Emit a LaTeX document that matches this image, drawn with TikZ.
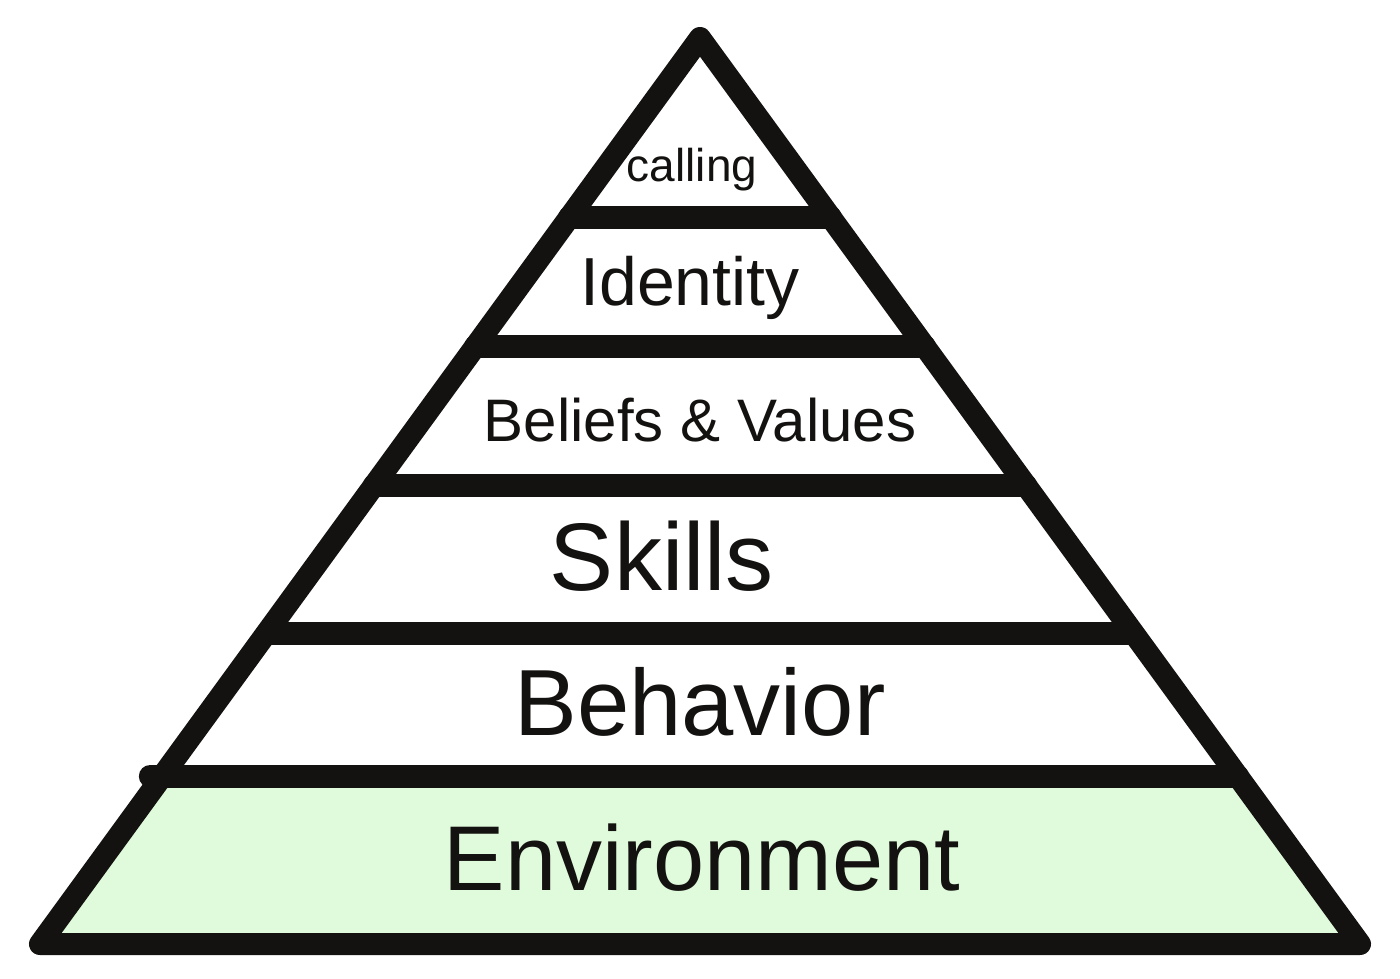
\documentclass[tikz,border=0pt]{standalone}
\usepackage{fontspec}
\setmainfont{Liberation Sans}
\usetikzlibrary{calc}
\definecolor{ink}{HTML}{141210}
\definecolor{envgreen}{HTML}{E0FADC}
\tikzset{
  pyr/.style={draw=ink, line width=22pt, line cap=round, line join=round},
  band/.style={draw=ink, line width=23pt, line cap=round},
  lab/.style={text=ink, inner sep=0pt, anchor=center}
}
\newcommand{\fs}[1]{\fontsize{#1}{#1}\selectfont}
\begin{document}
\begin{tikzpicture}[x=1pt,y=-1pt]
\useasboundingbox (0,0) rectangle (1400,978);
\coordinate (A) at (700,38);
\coordinate (L) at (40,944);
\coordinate (R) at (1360,944);
% band heights as fractions of the edge
\coordinate (b1l) at ($(A)!0.1976!(L)$);
\coordinate (b1r) at ($(A)!0.1976!(R)$);
\coordinate (b2l) at ($(A)!0.3400!(L)$);
\coordinate (b2r) at ($(A)!0.3400!(R)$);
\coordinate (b3l) at ($(A)!0.4934!(L)$);
\coordinate (b3r) at ($(A)!0.4934!(R)$);
\coordinate (b4l) at ($(A)!0.6578!(L)$);
\coordinate (b4r) at ($(A)!0.6578!(R)$);
\coordinate (b5l) at ($(A)!0.8146!(L)$);
\coordinate (b5r) at ($(A)!0.8146!(R)$);
% green bottom tier
\fill[envgreen] (b5l) -- (L) -- (R) -- (b5r) -- cycle;
% outline
\draw[pyr] (A) -- (L) -- (R) -- cycle;
% bands
\draw[band] (b1l) -- (b1r);
\draw[band] (b2l) -- (b2r);
\draw[band] (b3l) -- (b3r);
\draw[band] ($(b4l)+(6,0)$) -- ($(b4r)+(-6,0)$);
\draw[band] ($(b5l)+(-12,0)$) -- (b5r);
% labels
\node[lab, font=\fs{46}] (calling) at (692,170) {calling};
\node[lab, font=\fs{68}] (identity) at (690,288) {Identity};
\node[lab, font=\fs{60}] (beliefs) at (700,420) {Beliefs \& Values};
\node[lab, font=\fs{96}] (skills) at (662,556) {Skills};
\node[lab, font=\fs{94}] (behavior) at (700,702) {Behavior};
\node[lab, font=\fs{92}] (env) at (702,858) {Environment};
\end{tikzpicture}
\end{document}
